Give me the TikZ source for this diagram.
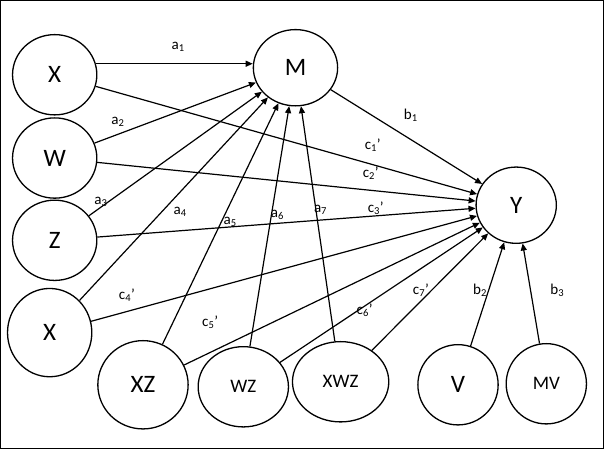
\documentclass[tikz,border=0pt]{standalone}
\usepackage{fontspec}
\setmainfont{Carlito}
\usetikzlibrary{shapes.geometric,arrows.meta}
\begin{document}
\begin{tikzpicture}[x=1pt,y=-1pt,
  v/.style={draw,ellipse,line width=1.3pt,inner sep=0pt},
  big/.style={font=\fontsize{25}{25}\selectfont},
  sml/.style={font=\fontsize{19}{19}\selectfont},
  e/.style={-{Triangle[length=7pt,width=6pt]},line width=1.2pt},
  lb/.style={font=\fontsize{15}{15}\selectfont,inner sep=0pt}]
\draw[line width=1pt] (1,1) rectangle (602,448);
\node[v,big,minimum width=84pt,minimum height=80pt] (x1) at (55,75) {X};
\node[v,big,minimum width=84pt,minimum height=80pt] (w) at (55,158) {W};
\node[v,big,minimum width=84pt,minimum height=80pt] (z) at (55,240) {Z};
\node[v,big,minimum width=84pt,minimum height=88pt] (x2) at (50,332) {X};
\node[v,big,minimum width=90pt,minimum height=88pt] (xz) at (143,384) {XZ};
\node[v,sml,minimum width=90pt,minimum height=80pt] (wz) at (243,386) {WZ};
\node[v,sml,minimum width=96pt,minimum height=80pt] (xwz) at (340,381) {XWZ};
\node[v,big,minimum width=80pt,minimum height=80pt] (vv) at (457,384) {V};
\node[v,sml,minimum width=80pt,minimum height=80pt] (mv) at (545,383) {MV};
\node[v,big,minimum width=84pt,minimum height=76pt] (m) at (295,68) {M};
\node[v,big,minimum width=80pt,minimum height=76pt] (y) at (515,205) {Y};
\draw[e] (x1.15) -- (m.west|-x1.15);
\draw[e] (x1) -- (y);
\foreach \s in {w,z,x2,xz,wz,xwz} {\draw[e] (\s) -- (m); \draw[e] (\s) -- (y);}
\draw[e] (vv) -- (y); \draw[e] (mv) -- (y); \draw[e] (m) -- (y);
\node[lb] (l1) at (178,47) {a\textsubscript{1}};
\node[lb] (l2) at (118,122) {a\textsubscript{2}};
\node[lb] (l3) at (101,202) {a\textsubscript{3}};
\node[lb] (l4) at (180,212) {a\textsubscript{4}};
\node[lb] (l5) at (230,222) {a\textsubscript{5}};
\node[lb] (l6) at (277,215) {a\textsubscript{6}};
\node[lb] (l7) at (320,210) {a\textsubscript{7}};
\node[lb] (l8) at (410,115) {b\textsubscript{1}};
\node[lb] (l9) at (372,145) {c\textsubscript{1}’};
\node[lb] (l10) at (370,173) {c\textsubscript{2}’};
\node[lb] (l11) at (375,208) {c\textsubscript{3}’};
\node[lb] (l12) at (127,295) {c\textsubscript{4}’};
\node[lb] (l13) at (210,322) {c\textsubscript{5}’};
\node[lb] (l14) at (364,310) {c\textsubscript{6}’};
\node[lb] (l15) at (420,290) {c\textsubscript{7}’};
\node[lb] (l16) at (479,290) {b\textsubscript{2}};
\node[lb] (l17) at (556,290) {b\textsubscript{3}};
\end{tikzpicture}
\end{document}
